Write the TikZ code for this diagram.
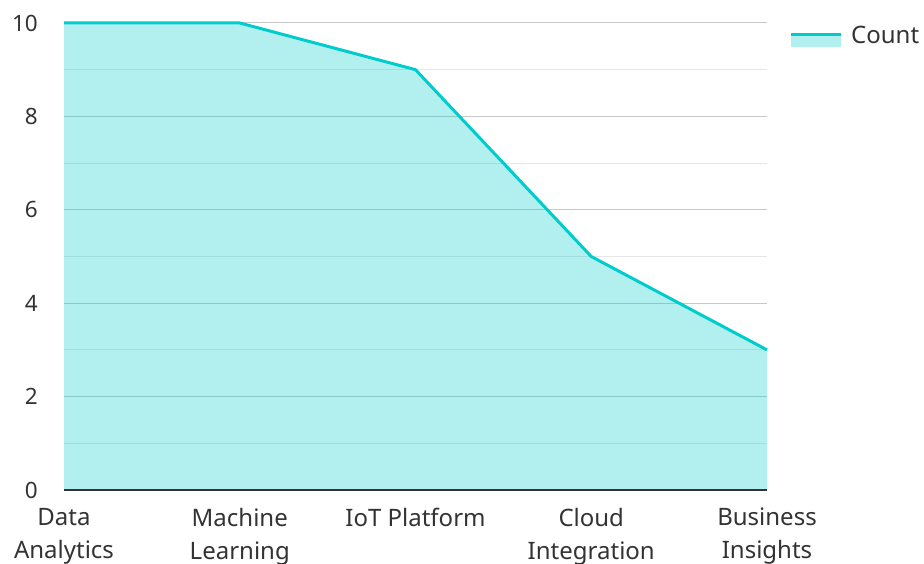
\documentclass[tikz,border=0pt]{standalone}
\usepackage{fontspec}
\setmainfont{Noto Sans}
\definecolor{teal1}{HTML}{00CCCC}
\definecolor{gridmaj}{HTML}{C8C8C8}
\definecolor{gridmin}{HTML}{E6E6E6}
\definecolor{txt}{HTML}{333333}
\begin{document}
\begin{tikzpicture}[x=1pt,y=-1pt,
  majgrid/.style={draw=gridmaj,line width=1pt},
  mingrid/.style={draw=gridmin,line width=1pt},
  ylab/.style={anchor=east,font=\fontsize{22.5}{26}\selectfont,text=txt,inner sep=0pt},
  xlab/.style={anchor=north,font=\fontsize{24}{33}\selectfont,text=txt,align=center,inner sep=0pt},
  serline/.style={draw=teal1,line width=3pt,line join=round},
  serfill/.style={fill=teal1,fill opacity=0.3}]
\useasboundingbox (0,0) rectangle (924,564);
% grid
\foreach \v in {1,3,5,7,9} {
  \draw[mingrid] (64,{490-46.7*\v}) -- (767,{490-46.7*\v});
}
\foreach \v in {2,4,6,8,10} {
  \draw[majgrid] (64,{490-46.7*\v}) -- (767,{490-46.7*\v});
}
% data points
\coordinate (p1) at (64,23);
\coordinate (p2) at (239.75,23);
\coordinate (p3) at (415.5,69.7);
\coordinate (p4) at (591.25,256.5);
\coordinate (p5) at (767,349.9);
\coordinate (b1) at (64,490);
\coordinate (b5) at (767,490);
\fill[serfill] (b1) -- (p1) -- (p2) -- (p3) -- (p4) -- (p5) -- (b5) -- cycle;
\draw[serline] (p1) -- (p2) -- (p3) -- (p4) -- (p5);
% axis
\draw[draw=txt,line width=2pt] (b1) -- (b5);
% y labels
\foreach \v in {0,2,4,6,8,10} {
  \node[ylab] (y\v) at (38,{490-46.7*\v}) {\v};
}
% x labels
\node[xlab] (x1) at (64,508) {Data\\Analytics};
\node[xlab] (x2) at (239.75,508) {Machine\\Learning};
\node[xlab] (x3) at (415.5,508) {IoT Platform};
\node[xlab] (x4) at (591.25,508) {Cloud\\Integration};
\node[xlab] (x5) at (767,508) {Business\\Insights};
% legend
\fill[serfill] (791,34) rectangle (841,47);
\draw[serline,line cap=butt] (791,34.5) -- (841,34.5);
\node[anchor=west,font=\fontsize{24}{28}\selectfont,text=txt,inner sep=0pt] (leg) at (851,35) {Count};
\end{tikzpicture}
\end{document}
